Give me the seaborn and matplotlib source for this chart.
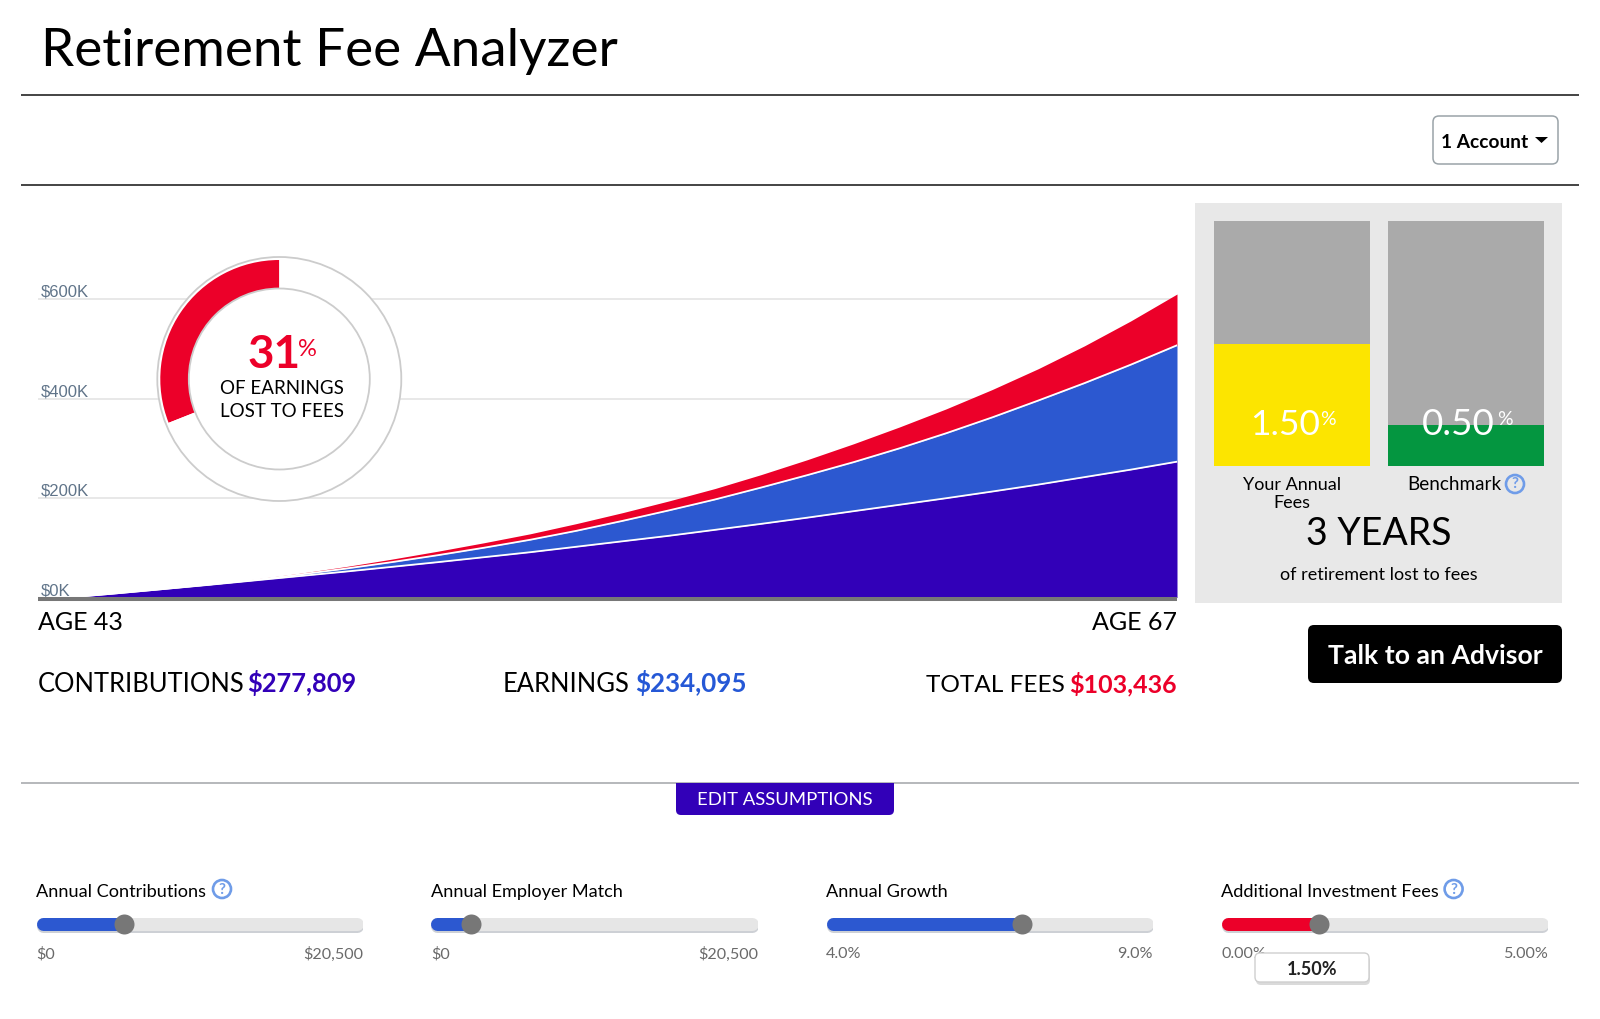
import numpy as np
import seaborn as sns
import matplotlib
matplotlib.use("Agg")
import matplotlib.pyplot as plt
from matplotlib.patches import Rectangle, FancyBboxPatch, Circle, Polygon
from matplotlib.transforms import ScaledTranslation

ages = list(range(43, 68))
contributions = [0, 8, 16.5, 25, 34, 43, 52, 61.5, 71, 81, 91, 102, 113, 124, 136, 148, 160.5, 173.5, 186.5, 199.5, 213, 227, 242, 257, 273]
earnings = [0, 0, 0, 0.5, 1, 3, 6, 9.5, 14, 19, 25, 32, 41, 51, 61, 73, 85.5, 98.5, 113.5, 130.5, 149, 169, 189, 211, 234]
fees = [0, 0, 0.5, 1, 1.5, 2.5, 4, 6, 8, 10, 12, 14.5, 16.5, 19, 22, 26, 31, 37, 43, 49, 56, 64, 75, 88, 103]
y_ticks = [0, 200, 400, 600]
y_labels = ["$0K", "$200K", "$400K", "$600K"]

lost_share = [31, 69]

fee_names = ["Your Annual Fees", "Benchmark"]
fee_values = [1.5, 0.5]
fee_scale = [3.0, 3.0]

slider_names = ["Annual Contributions", "Annual Employer Match", "Annual Growth", "Additional Investment Fees"]
slider_min = [0, 0, 4.0, 0.0]
slider_max = [20500, 20500, 9.0, 5.0]
slider_values = [5500, 2500, 7.0, 1.5]
slider_min_labels = ["$0", "$0", "4.0%", "0.00%"]
slider_max_labels = ["$20,500", "$20,500", "9.0%", "5.00%"]

RED = "#EC0029"
BLUE = "#2C58D0"
PURPLE = "#3200B8"
W, H = 1600, 1019

sns.set_theme(style="white")
plt.rcParams["font.family"] = ["Lato", "DejaVu Sans"]

fig = plt.figure(figsize=(W / 100, H / 100), dpi=100, facecolor="white")


def px_axes(x0, y0, x1, y1, zorder=1):
    # axes from pixel box, y counted from the top of the picture
    ax = fig.add_axes([x0 / W, 1 - y1 / H, (x1 - x0) / W, (y1 - y0) / H], zorder=zorder)
    ax.patch.set_alpha(0)
    return ax


def px_pt(n):
    return n * 0.72


bg = px_axes(0, 0, W, H, zorder=0)
bg.set_xlim(0, W)
bg.set_ylim(H, 0)
bg.axis("off")
bg.add_patch(Rectangle((1195, 203), 367, 400, color="#E8E8E8", lw=0))

ui = px_axes(0, 0, W, H, zorder=5)
ui.set_xlim(0, W)
ui.set_ylim(H, 0)
ui.axis("off")


def put(x, y, s, size, color="black", weight="normal", ha="left"):
    ui.text(x, y, s, fontsize=size, color=color, fontweight=weight, ha=ha, va="baseline")


# area chart
x_step = (1177 - 68) / 24
chart = px_axes(38, 200, 1177, 597.5, zorder=1)
c_top = np.array(contributions)
e_top = c_top + np.array(earnings)
f_top = e_top + np.array(fees)
chart.fill_between(ages, e_top, f_top, color=RED, lw=0)
chart.fill_between(ages, c_top, e_top, color=BLUE, lw=0)
chart.fill_between(ages, 0, c_top, color=PURPLE, lw=0)
sns.lineplot(x=ages, y=c_top, color="white", lw=1.3, ax=chart)
sns.lineplot(x=ages, y=e_top, color="white", lw=1.3, ax=chart)
chart.set_xlim(43 - 30 / x_step, 67)
chart.set_ylim(0, 397.5 * 200 / 99.5)
chart.set_yticks(y_ticks, y_labels)
chart.set_xticks([])
chart.grid(axis="y", color="#E6E6E6", lw=1.3)
chart.set_axisbelow(True)
chart.tick_params(axis="y", length=0, pad=-2, labelsize=12, labelcolor="#607489")
lift = ScaledTranslation(0, 1.6 / 72, fig.dpi_scale_trans)
for lab in chart.get_yticklabels():
    lab.set_ha("left")
    lab.set_va("baseline")
    lab.set_fontfamily("Liberation Sans")
    lab.set_transform(lab.get_transform() + lift)
sns.despine(ax=chart, left=True, right=True, top=True)
chart.spines["bottom"].set_color("#777777")
chart.spines["bottom"].set_linewidth(2.9)
chart.spines["bottom"].set_capstyle("butt")
chart.spines["bottom"].set_position(("outward", 1.4))

# donut
donut = px_axes(279.3 - 125, 379 - 125, 279.3 + 125, 379 + 125, zorder=2)
donut.pie(lost_share, colors=[RED, "white"], startangle=90, counterclock=True, radius=1,
          wedgeprops=dict(width=(119 - 90) / 119, linewidth=0, zorder=1))
donut.add_patch(Circle((0, 0), 122 / 119, fc="white", ec="#CCCCCC", lw=1.3, zorder=0))
donut.add_patch(Circle((0, 0), 90.5 / 119, fc="white", ec="#CCCCCC", lw=1.3, zorder=2))
donut.set_xlim(-125 / 119, 125 / 119)
donut.set_ylim(-125 / 119, 125 / 119)

# fee bars
bars = px_axes(1214, 221, 1544, 466, zorder=1)
bar_w = 156 / 174
sns.barplot(x=fee_names, y=fee_scale, color="#AAAAAA", width=bar_w, saturation=1, linewidth=0, ax=bars)
sns.barplot(x=fee_names, y=fee_values, hue=fee_names, palette=["#FCE500", "#049640"], width=bar_w,
            saturation=1, linewidth=0, legend=False, ax=bars)
bars.set_xlim(-bar_w / 2, 1 + bar_w / 2)
bars.set_ylim(0, 3)
bars.axis("off")

# sliders
slider_x = [36, 431, 826, 1221]
for i in range(4):
    x0 = slider_x[i]
    s = px_axes(x0, 909, x0 + 327, 939, zorder=3)
    lo, hi = slider_min[i], slider_max[i]
    pad = (hi - lo) * 6.5 / 327
    s.plot([lo + pad, hi - pad], [-0.12, -0.12], color="#CDD0D5", lw=px_pt(13), solid_capstyle="round")
    s.plot([lo + pad, hi - pad], [0, 0], color="#E6E6E6", lw=px_pt(13), solid_capstyle="round")
    s.plot([lo + pad, slider_values[i]], [0, 0], color=RED if i == 3 else BLUE, lw=px_pt(13), solid_capstyle="round")
    s.scatter([slider_values[i]], [0], s=px_pt(20) ** 2, color="#777777", lw=0, zorder=4, clip_on=False)
    s.set_xlim(lo, hi)
    s.set_ylim(-1, 1)
    s.set_yticks([])
    s.set_xticks([lo, hi], [slider_min_labels[i], slider_max_labels[i]])
    s.tick_params(axis="x", length=0, pad=5.5, labelsize=11.6, labelcolor="#6A6A6A")
    s.get_xticklabels()[0].set_ha("left")
    s.get_xticklabels()[1].set_ha("right")
    sns.despine(ax=s, left=True, right=True, top=True, bottom=True)
    put(x0, 897, slider_names[i], 13.1)

# page furniture
for y, col, lw in [(95, "#111111", 1.1), (185, "#111111", 1.1), (783, "#B5B8BB", 1.4)]:
    ui.plot([21, 1579], [y, y], color=col, lw=lw, solid_capstyle="butt", zorder=1)
put(41, 66, "Retirement Fee Analyzer", 38.2)

ui.add_patch(FancyBboxPatch((1433, 116), 125, 48, boxstyle="round,pad=0,rounding_size=6", fc="white", ec="#9AA3A8", lw=1.1))
put(1441, 148, "1 Account", 13.8, weight="bold")
ui.add_patch(Polygon([(1535, 137), (1548, 137), (1541.5, 143)], color="black", lw=0))

put(38, 630, "AGE 43", 18)
put(1177, 630, "AGE 67", 18, ha="right")
put(38, 692.5, "CONTRIBUTIONS", 18.4)
put(247, 692.5, "$277,809", 18.4, color=PURPLE, weight="bold")
put(503, 692.5, "EARNINGS", 18.4)
put(635, 692.5, "$234,095", 18.6, color="#2558D6", weight="bold")
put(926, 692.5, "TOTAL FEES", 17.6)
put(1177, 692.5, "$103,436", 18, color=RED, weight="bold", ha="right")

put(248, 368.5, "31", 33, color=RED, weight="bold")
put(298, 356, "%", 17, color=RED)
put(282, 394, "OF EARNINGS", 13.5, ha="center")
put(282, 417, "LOST TO FEES", 13.5, ha="center")

put(1250, 435, "1.50", 25.5, color="white")
put(1320, 425, "%", 14, color="white")
put(1422, 435, "0.50", 26.5, color="white")
put(1497, 425, "%", 14, color="white")
put(1292, 490, "Your Annual", 13, ha="center")
put(1292, 508, "Fees", 13, ha="center")
put(1407, 490, "Benchmark", 13.6)
put(1379, 545, "3 YEARS", 27, ha="center")
put(1379, 580, "of retirement lost to fees", 13, ha="center")

for cx, cy in [(1515, 484), (222, 889), (1453.6, 889)]:
    ui.add_patch(Circle((cx, cy), 9, fc="none", ec="#6F9CE8", lw=1.9))
    ui.text(cx, cy + 0.5, "?", fontsize=11, fontweight="bold", color="#6F9CE8", ha="center", va="center")

ui.add_patch(FancyBboxPatch((1308, 625), 254, 58, boxstyle="round,pad=0,rounding_size=6", fc="black", ec="none"))
put(1435, 664, "Talk to an Advisor", 19.2, color="white", weight="bold", ha="center")

ui.add_patch(FancyBboxPatch((676, 783), 218, 32, boxstyle="round,pad=0,rounding_size=5", fc=PURPLE, ec="none"))
ui.add_patch(Rectangle((676, 783), 218, 12, color=PURPLE, lw=0))
put(785, 805, "EDIT ASSUMPTIONS", 13.3, color="white", ha="center")

ui.add_patch(FancyBboxPatch((1256, 956), 114, 29, boxstyle="round,pad=0,rounding_size=5", fc="#DADADA", ec="none"))
ui.add_patch(FancyBboxPatch((1255, 953), 114, 29, boxstyle="round,pad=0,rounding_size=5", fc="white", ec="#CFCFCF", lw=1))
put(1312, 975, "1.50%", 13, color="#222222", weight="bold", ha="center")

fig.savefig("out.png", dpi=100)
